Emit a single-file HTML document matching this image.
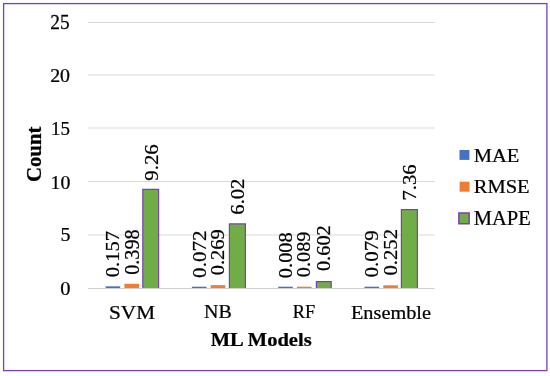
<!DOCTYPE html><html><head><meta charset="utf-8"><title>chart</title><style>html,body{margin:0;padding:0;background:#fff}svg{display:block}text{font-family:"Liberation Serif","Times New Roman",serif;fill:#000;stroke:#000;stroke-width:0.25px}</style></head><body>
<svg width="550" height="376" viewBox="0 0 550 376">
<rect x="0" y="0" width="550" height="376" fill="#fff"/>
<rect x="3.6" y="3.6" width="543.3" height="367.0" fill="#fff" stroke="#7D40B2" stroke-width="1.3"/>
<line x1="88.0" y1="235.0" x2="434.6" y2="235.0" stroke="#D9D9D9" stroke-width="1.1"/>
<line x1="88.0" y1="181.5" x2="434.6" y2="181.5" stroke="#D9D9D9" stroke-width="1.1"/>
<line x1="88.0" y1="128.0" x2="434.6" y2="128.0" stroke="#D9D9D9" stroke-width="1.1"/>
<line x1="88.0" y1="75.0" x2="434.6" y2="75.0" stroke="#D9D9D9" stroke-width="1.1"/>
<line x1="88.0" y1="22.5" x2="434.6" y2="22.5" stroke="#D9D9D9" stroke-width="1.1"/>
<text transform="translate(50.35,28.57) scale(0.9687,1.0093)" font-size="20">25</text>
<text transform="translate(50.13,81.58) scale(0.9959,0.9720)" font-size="20">20</text>
<text transform="translate(51.04,134.98) scale(0.9486,0.9811)" font-size="20">15</text>
<text transform="translate(50.46,188.78) scale(0.9943,0.9570)" font-size="20">10</text>
<text transform="translate(60.38,241.08) scale(0.9969,0.9887)" font-size="20">5</text>
<text transform="translate(60.13,294.58) scale(1.0235,0.9495)" font-size="20">0</text>
<rect x="105.60" y="286.33" width="14.60" height="1.67" fill="#4472C4"/>
<rect x="124.40" y="283.76" width="14.60" height="4.24" fill="#ED7D31"/>
<rect x="142.80" y="189.38" width="15.80" height="98.62" fill="#70AD47"/>
<path d="M142.80 288.00V189.38H158.60V288.00" fill="none" stroke="#7D40B2" stroke-width="1.2"/>
<rect x="191.90" y="286.70" width="14.60" height="1.30" fill="#4472C4"/>
<rect x="210.70" y="285.14" width="14.60" height="2.86" fill="#ED7D31"/>
<rect x="229.40" y="223.89" width="16.00" height="64.11" fill="#70AD47"/>
<path d="M229.40 288.00V223.89H245.40V288.00" fill="none" stroke="#7D40B2" stroke-width="1.2"/>
<rect x="278.20" y="286.70" width="14.60" height="1.30" fill="#4472C4"/>
<rect x="297.00" y="286.70" width="14.60" height="1.30" fill="#ED7D31"/>
<rect x="316.40" y="281.59" width="14.80" height="6.41" fill="#70AD47"/>
<path d="M316.40 288.00V281.59H331.20V288.00" fill="none" stroke="#7D40B2" stroke-width="1.2"/>
<rect x="364.50" y="286.70" width="14.60" height="1.30" fill="#4472C4"/>
<rect x="383.30" y="285.32" width="14.60" height="2.68" fill="#ED7D31"/>
<rect x="401.40" y="209.62" width="16.00" height="78.38" fill="#70AD47"/>
<path d="M401.40 288.00V209.62H417.40V288.00" fill="none" stroke="#7D40B2" stroke-width="1.2"/>
<line x1="88.0" y1="288.5" x2="434.6" y2="288.5" stroke="#CFCFCF" stroke-width="1.1"/>
<text transform="translate(119.17,277.17) rotate(-90) scale(1.0292,0.9111)" font-size="20">0.157</text>
<text transform="translate(138.64,274.76) rotate(-90) scale(1.0069,1.0296)" font-size="20">0.398</text>
<text transform="translate(157.55,180.65) rotate(-90) scale(1.0400,0.9926)" font-size="20">9.26</text>
<text transform="translate(205.67,277.89) rotate(-90) scale(1.0551,0.9333)" font-size="20">0.072</text>
<text transform="translate(224.16,275.27) rotate(-90) scale(1.0259,0.9778)" font-size="20">0.269</text>
<text transform="translate(243.56,214.70) rotate(-90) scale(1.0333,0.9778)" font-size="20">6.02</text>
<text transform="translate(292.06,278.17) rotate(-90) scale(1.0207,0.9556)" font-size="20">0.008</text>
<text transform="translate(310.46,277.16) rotate(-90) scale(1.0144,0.9556)" font-size="20">0.089</text>
<text transform="translate(329.95,271.07) rotate(-90) scale(1.0203,0.9852)" font-size="20">0.602</text>
<text transform="translate(378.36,277.39) rotate(-90) scale(1.0467,0.9481)" font-size="20">0.079</text>
<text transform="translate(397.26,275.48) rotate(-90) scale(1.0342,0.9481)" font-size="20">0.252</text>
<text transform="translate(416.18,200.52) rotate(-90) scale(1.0303,0.8963)" font-size="20">7.36</text>
<text transform="translate(109.04,318.65) scale(1.0610,0.9926)" font-size="20">SVM</text>
<text transform="translate(204.08,318.40) scale(0.9990,0.9295)" font-size="20">NB</text>
<text transform="translate(292.73,318.40) scale(0.9168,0.9295)" font-size="20">RF</text>
<text transform="translate(350.97,318.78) scale(1.0142,0.9714)" font-size="20">Ensemble</text>
<text transform="translate(210.72,345.89) scale(1.0267,0.9143)" font-size="20" font-weight="bold">ML Models</text>
<text transform="translate(41.14,182.04) rotate(-90) scale(1.0392,1.0296)" font-size="20" font-weight="bold">Count</text>
<rect x="459.5" y="150.0" width="9.9" height="9.9" fill="#4472C4"/>
<rect x="459.6" y="181.7" width="9.9" height="10.0" fill="#ED7D31"/>
<rect x="458.85" y="212.95" width="10.3" height="10.8" fill="#70AD47" stroke="#7D40B2" stroke-width="1.5"/>
<text transform="translate(473.76,161.70) scale(1.0269,0.9752)" font-size="20">MAE</text>
<text transform="translate(473.76,192.98) scale(1.0270,0.9869)" font-size="20">RMSE</text>
<text transform="translate(473.76,224.80) scale(1.0265,0.9981)" font-size="20">MAPE</text>
</svg></body></html>
